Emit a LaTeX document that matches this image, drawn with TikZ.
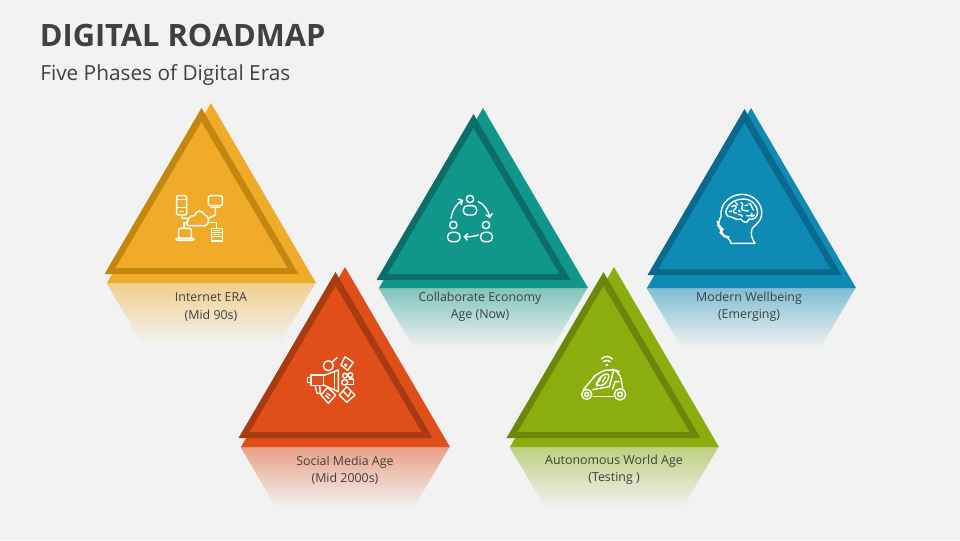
\documentclass[tikz,border=0pt]{standalone}
\usepackage{fontspec}
\setmainfont{Open Sans}
\usetikzlibrary{arrows.meta}
\definecolor{pagebg}{HTML}{F2F2F2}
\definecolor{inktext}{HTML}{404040}
\definecolor{amberc}{HTML}{F0AB28}
\definecolor{amberd}{HTML}{C3860F}
\definecolor{tealc}{HTML}{10968B}
\definecolor{teald}{HTML}{0C6E67}
\definecolor{bluec}{HTML}{0E8AB5}
\definecolor{blued}{HTML}{0A6A8E}
\definecolor{redc}{HTML}{E04E1A}
\definecolor{redd}{HTML}{A83B12}
\definecolor{greenc}{HTML}{8BAD0E}
\definecolor{greend}{HTML}{6B860B}
\tikzset{
  phaselabel/.style={font=\fontsize{9.3pt}{12.8pt}\selectfont, text=inktext, align=center},
  iconline/.style={draw=white, line width=1.05pt, line join=round, line cap=round},
}
% colour, dark colour, back apex x y, front apex x y
\newcommand{\phase}[6]{
\shade [top color=#1!50!pagebg, bottom color=pagebg] (#3-104.5, #4+180) -- (#3+104.5, #4+180) -- (#3+68.5, #4+241) -- (#3-68.5, #4+241) -- cycle;
\fill [#1] (#3, #4) -- (#3+105, #4+180) -- (#3-104, #4+180) -- cycle;
\fill [#2] (#5, #6) -- (#5+97, #6+166) -- (#5-97, #6+166) -- cycle;
\fill [#1] (#5, #6+14) -- (#5+86, #6+160) -- (#5-86, #6+160) -- cycle;
}
\begin{document}
\begin{tikzpicture}[x=0.75pt, y=-0.75pt]
\useasboundingbox (0, 0) rectangle (960, 540);
\fill [pagebg] (0, 0) rectangle (960, 540);
\node (title) [anchor=west, inner sep=0pt, text=inktext, font=\fontsize{23.1pt}{28pt}\selectfont\bfseries] at (39.5, 35) {DIGITAL ROADMAP};
\node (subtitle) [anchor=west, inner sep=0pt, text=inktext, font=\fontsize{15.6pt}{18pt}\selectfont] at (40, 75.5) {Five Phases of Digital Eras};

\phase{amberc}{amberd}{211}{103}{201.5}{108}
\phase{tealc}{teald}{483}{108}{473.5}{114}
\phase{bluec}{blued}{751}{108}{744.5}{109}
\phase{redc}{redd}{345}{267}{335.5}{272}
\phase{greenc}{greend}{614}{267}{603.5}{272}

\node (internet) [phaselabel] at (211, 307) {Internet ERA\\(Mid 90s)};
\node (collab) [phaselabel] at (480, 307) {Collaborate Economy\\Age (Now)};
\node (wellbeing) [phaselabel] at (749, 307) {Modern Wellbeing\\(Emerging)};
\node (social) [phaselabel] at (345, 470) {Social Media Age\\(Mid 2000s)};
\node (autonomous) [phaselabel] at (614, 470) {Autonomous World Age\\(Testing )};

% network icon
\begin{scope}[shift={(160, 185)}, x=0.25pt, y=-0.25pt, iconline]
\draw [rounded corners=1pt] (50, 32) rectangle (80, 90);
\draw (50, 43) -- (80, 43) (50, 68) -- (80, 68) (60, 79) -- (70, 79);
\draw [rounded corners=1pt] (145, 32) rectangle (187, 62);
\draw (160, 62) -- (160, 68) (172, 62) -- (172, 68) (152, 68) -- (180, 68);
\draw (66, 90) -- (66, 100) -- (82, 100) (166, 68) -- (166, 90) -- (145, 100);
\draw (80, 120) -- (86, 100) .. controls (88, 92) and (98, 92) .. (104, 92) .. controls (106, 76) and (128, 72) .. (134, 90) .. controls (146, 88) and (152, 118) .. (136, 122) -- (88, 122) .. controls (82, 122) and (78, 120) .. (80, 110);
\draw (72, 130) -- (72, 112) -- (80, 112) (170, 130) -- (170, 112) -- (150, 112);
\draw [rounded corners=1pt] (56, 130) rectangle (94, 160);
\draw [rounded corners=1pt] (48, 160) rectangle (102, 166);
\draw (155, 130) rectangle (187, 168);
\draw (155, 142) -- (187, 142) (155, 155) -- (187, 155) (162, 136) -- (178, 136) (162, 149) -- (178, 149);
\end{scope}

% people icon
\begin{scope}[shift={(435, 185)}, x=0.25pt, y=-0.25pt, iconline]
\draw (105, 42) circle [radius=11];
\draw [rounded corners=3pt] (85, 90) -- (85, 62) -- (125, 62) -- (125, 90) -- cycle;
\draw (55, 120) circle [radius=11];
\draw [rounded corners=3pt] (38, 170) -- (38, 142) -- (75, 142) -- (75, 170) -- cycle;
\draw (153, 120) circle [radius=11];
\draw [rounded corners=3pt] (137, 170) -- (137, 142) -- (172, 142) -- (172, 170) -- cycle;
\draw [-{Straight Barb[length=2.5pt, width=5pt]}] (48, 100) .. controls (52, 75) and (65, 55) .. (85, 45);
\draw [-{Straight Barb[length=2.5pt, width=5pt]}] (130, 50) .. controls (148, 58) and (160, 78) .. (165, 100);
\draw [-{Straight Barb[length=2.5pt, width=5pt]}] (130, 150) .. controls (115, 155) and (100, 156) .. (85, 155);
\end{scope}

% head icon
\begin{scope}[shift={(705, 185)}, x=0.25pt, y=-0.25pt, iconline]
\draw [rounded corners=4pt] (78, 175) -- (72, 156) -- (56, 153) -- (48, 145) -- (50, 130) -- (42, 124) -- (38, 113) -- (48, 95);
\draw (48, 95) .. controls (44, 60) and (70, 30) .. (110, 28) .. controls (150, 28) and (172, 60) .. (170, 85) .. controls (170, 110) and (150, 120) .. (142, 130) .. controls (135, 145) and (140, 160) .. (150, 175) -- (78, 175);
\draw (65, 72) .. controls (72, 52) and (95, 42) .. (115, 42) .. controls (140, 42) and (158, 62) .. (158, 82) .. controls (158, 100) and (140, 106) .. (132, 102) .. controls (128, 118) and (112, 112) .. (108, 102) .. controls (95, 108) and (85, 96) .. (78, 96) .. controls (62, 96) and (60, 80) .. (65, 72);
\draw (80, 65) .. controls (90, 55) and (100, 68) .. (90, 72) .. controls (82, 76) and (82, 85) .. (95, 84);
\draw (108, 52) .. controls (120, 58) and (105, 68) .. (112, 75) .. controls (120, 82) and (125, 72) .. (130, 78);
\draw (132, 55) .. controls (145, 60) and (135, 68) .. (145, 75) (140, 85) .. controls (146, 90) and (132, 95) .. (125, 92);
\draw (100, 88) .. controls (108, 92) and (112, 88) .. (112, 94);
\draw (72, 80) -- (80, 78) (92, 52) -- (98, 60) (120, 62) -- (128, 60) (148, 90) -- (140, 95) (100, 76) -- (106, 80);
\end{scope}

% megaphone icon
\begin{scope}[shift={(295, 345)}, x=0.25pt, y=-0.25pt, iconline]
\draw (100, 62) circle [radius=15];
\draw (112, 50) -- (126, 38);
\draw (150, 35) -- (175, 52) -- (158, 76) -- (138, 60) -- cycle;
\draw (152, 60) circle [radius=3];
\draw (48, 90) rectangle (85, 122);
\draw (48, 97) -- (38, 97) -- (38, 113) -- (48, 113);
\draw (60, 122) -- (66, 145) -- (76, 145) -- (74, 122);
\draw (85, 92) -- (130, 75) -- (130, 140) -- (85, 120);
\draw (118, 80) -- (118, 134);
\draw (150, 92) circle [radius=7] (166, 90) circle [radius=7];
\draw [rounded corners=2pt] (140, 120) -- (140, 104) -- (158, 104) -- (158, 120) -- cycle;
\draw (162, 102) -- (175, 102) -- (175, 118) -- (158, 118);
\draw (98, 127) -- (122, 150) -- (100, 175) -- (78, 150) -- cycle;
\draw (96, 145) -- (106, 152) (92, 152) -- (102, 160);
\draw (155, 125) -- (180, 150) -- (155, 172) -- (133, 150) -- cycle;
\draw (144, 138) -- (160, 155) -- (168, 138);
\end{scope}

% car icon
\begin{scope}[shift={(570, 345)}, x=0.25pt, y=-0.25pt, iconline]
\draw (110, 60) circle [radius=2];
\draw (100, 50) .. controls (106, 44) and (116, 44) .. (121, 50);
\draw (94, 42) .. controls (104, 32) and (118, 32) .. (127, 42);
\draw (50, 148) circle [radius=15] (50, 148) circle [radius=6];
\draw (150, 148) circle [radius=17] (150, 148) circle [radius=7];
\draw [rounded corners=6pt] (40, 134) -- (62, 108) -- (85, 80) -- (125, 72) -- (150, 80) -- (158, 130);
\draw (70, 155) -- (130, 155);
\draw [rounded corners=3pt] (80, 112) -- (95, 90) -- (120, 85) -- (108, 118) -- (80, 124) -- cycle;
\draw (130, 80) -- (118, 125) -- (68, 134);
\draw (128, 132) -- (135, 110) -- (148, 110);
\draw (92, 100) -- (86, 110) (106, 96) -- (98, 110);
\end{scope}
\end{tikzpicture}
\end{document}
